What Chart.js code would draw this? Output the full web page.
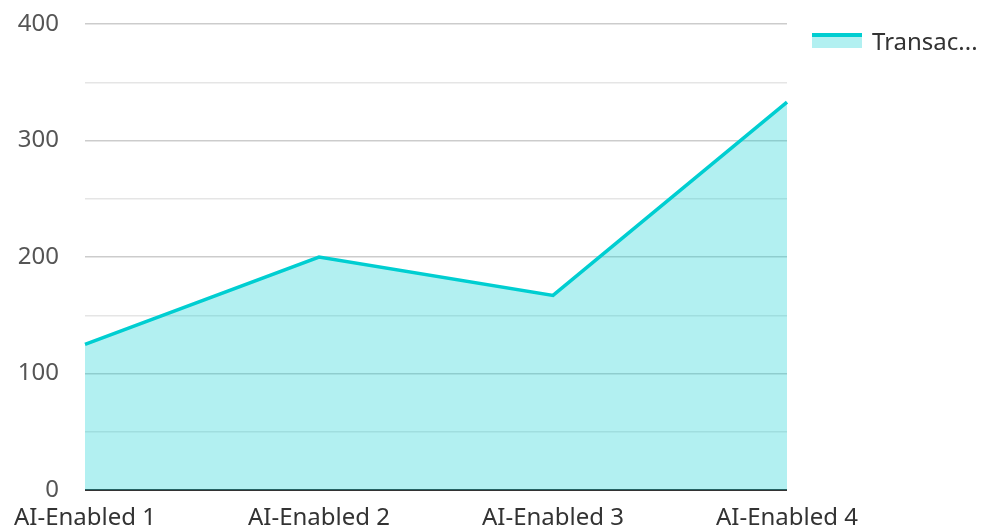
<!DOCTYPE html>
<html>
<head>
<meta charset="utf-8">
<script src="https://cdn.jsdelivr.net/npm/chart.js@4/dist/chart.umd.min.js"></script>
<style>
  html, body { margin: 0; padding: 0; background: #fff; }
  #wrap { position: relative; width: 982px; height: 531px; overflow: hidden; }
  canvas { display: block; }
  #legend { position: absolute; left: 812px; top: 24px; font-family: "Noto Sans", sans-serif; font-size: 24px; color: #333; display: flex; align-items: center; white-space: nowrap; }
  #legend .sw { width: 50px; height: 15px; background: rgba(0,206,209,0.3); border-top: 4px solid #00CED1; box-sizing: border-box; margin-right: 10px; }
</style>
</head>
<body>
<div id="wrap">
  <canvas id="c" width="982" height="531"></canvas>
  <div id="legend"><div class="sw"></div><span>Transac...</span></div>
</div>
<script>
const categories = ["AI-Enabled 1", "AI-Enabled 2", "AI-Enabled 3", "AI-Enabled 4"];
const seriesName = "Transactions";
const seriesValues = [125, 200, 167, 333];
const yTicks = [0, 100, 200, 300, 400];

const ctx = document.getElementById('c').getContext('2d');
new Chart(ctx, {
  type: 'line',
  data: {
    labels: categories,
    datasets: [{
      label: seriesName,
      data: seriesValues,
      borderColor: '#00CED1',
      backgroundColor: 'rgba(0,206,209,0.3)',
      borderWidth: 3.5,
      fill: 'origin',
      tension: 0,
      pointRadius: 0,
      pointHoverRadius: 0
    }]
  },
  options: {
    responsive: false,
    animation: false,
    devicePixelRatio: 1,
    layout: { autoPadding: false, padding: { top: 24, right: 195, left: 0, bottom: 0 } },
    plugins: { legend: { display: false }, tooltip: { enabled: false } },
    scales: {
      x: {
        offset: false,
        grid: { display: false, drawTicks: false },
        border: { display: false },
        ticks: { color: '#333', font: { family: 'Noto Sans', size: 24 }, padding: 14, maxRotation: 0, autoSkip: false },
        afterFit: (s) => { s.height = 41; s.paddingLeft = 0; s.paddingRight = 0; }
      },
      y: {
        z: 1,
        min: 0, max: 400,
        grid: {
          drawTicks: false,
          color: (c) => c.tick.value === 0 ? '#333' : (c.tick.value % 100 === 0 ? 'rgba(0,0,0,0.2)' : 'rgba(0,0,0,0.1)'),
          lineWidth: (c) => c.tick.value === 0 ? 2 : 1.5
        },
        border: { display: false },
        ticks: {
          stepSize: 50,
          color: '#555',
          font: { family: 'Noto Sans', size: 24 },
          padding: 26,
          callback: (v) => yTicks.includes(v) ? String(v) : ''
        },
        afterFit: (s) => { s.width = 85; s.paddingTop = 0; s.paddingBottom = 0; }
      }
    }
  }
});
</script>
</body>
</html>
